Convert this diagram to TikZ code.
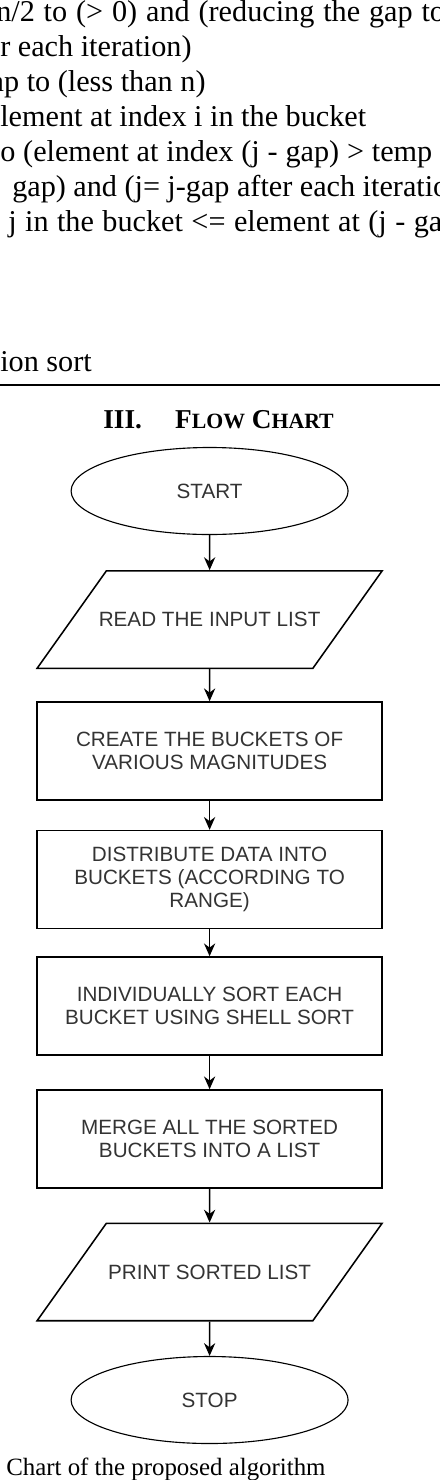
\documentclass[tikz,border=0pt]{standalone}
\usepackage{fontspec}
\setmainfont{Liberation Serif}
\newfontfamily\chartfont{Liberation Sans}
\usetikzlibrary{shapes.geometric,arrows.meta}

\begin{document}
\begin{tikzpicture}[
    body/.style={anchor=base west, inner sep=0pt, font=\fontsize{21.5}{24.9}\selectfont},
    term/.style={ellipse, draw, line width=0.8pt, minimum width=6.925cm, minimum height=2.175cm, inner sep=0pt, font=\chartfont\fontsize{14.7}{16.2}\selectfont, text=black!80},
    io/.style={trapezium, draw, line width=1.1pt, trapezium left angle=54.6, trapezium right angle=125.4, trapezium stretches body, minimum width=8.625cm, inner xsep=-0.3cm, inner ysep=1.035cm, font=\chartfont\fontsize{14.7}{16.2}\selectfont, text=black!80},
    proc/.style={rectangle, draw, line width=1.1pt, align=center, minimum width=8.625cm, minimum height=2.45cm, inner sep=0pt, font=\chartfont\fontsize{14.7}{16.2}\selectfont, text=black!80},
    flow/.style={-{Stealth[length=0.32cm, width=0.28cm]}, line width=1.2pt}]

    \useasboundingbox (0,0) rectangle (11,-37);

    % Text cut from the column above
    \node[body] (L1) at (-0.1,-0.525) {\makebox[11.22cm][s]{n/2 to (> 0) and (reducing the gap to}};
    \node[body] (L2) at (0,-1.4) {r each iteration)};
    \node[body] (L3) at (-0.24,-2.275) {ap to (less than n)};
    \node[body] (L4) at (0,-3.15) {lement at index i in the bucket};
    \node[body] (L5) at (0,-4.025) {\makebox[10.8cm][s]{o (element at index (j - gap) > temp}};
    \node[body] (L6) at (0.3,-4.9) {\makebox[10.9cm][s]{gap) and (j= j-gap after each iteratio}};
    \node[body] (L7) at (0.2,-5.775) {\makebox[10.85cm][s]{j in the bucket <= element at (j - ga}};
    \node[body] (L8) at (0,-9.29) {ion sort};

    % Rule and heading
    \coordinate (RL) at (0,-9.625);
    \coordinate (RR) at (11,-9.625);
    \draw[line width=1.5pt] (RL) -- (RR);
    \node[anchor=base west, inner sep=0pt, font=\bfseries\fontsize{19.4}{22}\selectfont] (TTL) at (2.575,-10.7)
        {III.\hspace{0.83cm}F{\fontsize{15.5}{18}\selectfont LOW} C{\fontsize{15.5}{18}\selectfont HART}};

    % Flow chart
    \node[term] (S) at (5.24,-12.275) {START};
    \node[io] (IN) at (5.24,-15.49) {READ THE INPUT LIST};
    \node[proc] (BK) at (5.24,-18.775) {CREATE THE BUCKETS OF\\VARIOUS MAGNITUDES};
    \node[proc] (DIST) at (5.24,-21.99) {DISTRIBUTE DATA INTO\\BUCKETS (ACCORDING TO\\RANGE)};
    \node[proc] (SORT) at (5.24,-25.15) {INDIVIDUALLY SORT EACH\\BUCKET USING SHELL SORT};
    \node[proc] (MRG) at (5.24,-28.475) {MERGE ALL THE SORTED\\BUCKETS INTO A LIST};
    \node[io] (OUT) at (5.24,-31.8) {PRINT SORTED LIST};
    \node[term] (E) at (5.24,-35.0) {STOP};

    % Arrows
    \draw[flow] (S) -- (IN);
    \draw[flow] (IN) -- (BK);
    \draw[flow] (BK) -- (DIST);
    \draw[flow] (DIST) -- (SORT);
    \draw[flow] (SORT) -- (MRG);
    \draw[flow] (MRG) -- (OUT);
    \draw[flow] (OUT) -- (E);

    % Caption
    \node[anchor=base west, inner sep=0pt, font=\fontsize{17.7}{20}\selectfont] (CAP) at (0.15,-36.875) {Chart of the proposed algorithm};
\end{tikzpicture}
\end{document}
